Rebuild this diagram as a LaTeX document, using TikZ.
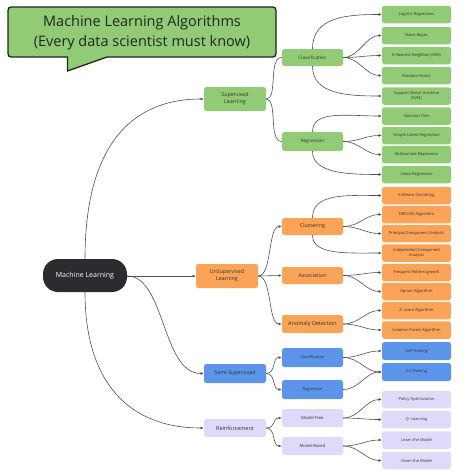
\documentclass[tikz,border=0pt]{standalone}
\usepackage{fontspec}
\setmainfont{Open Sans}
\usetikzlibrary{arrows.meta}
\definecolor{cgreen}{RGB}{146,203,118}
\definecolor{corange}{RGB}{251,164,88}
\definecolor{cblue}{RGB}{92,148,234}
\definecolor{clav}{RGB}{222,219,250}
\definecolor{cdark}{RGB}{43,43,48}
\definecolor{cline}{RGB}{80,80,80}
\definecolor{ctext}{RGB}{50,50,50}
\definecolor{cborder}{RGB}{30,40,30}
\tikzset{
  box/.style={rounded corners=2.5pt, inner sep=1pt, align=center, text=ctext},
  leafbox/.style={box, minimum width=69pt, minimum height=17.5pt, font=\fontsize{4}{5}\selectfont},
  midbox/.style={box, minimum width=61pt, minimum height=18pt},
  topbox/.style={box, minimum width=62pt},
  gfill/.style={fill=cgreen},
  ofill/.style={fill=corange},
  bfill/.style={fill=cblue},
  lfill/.style={fill=clav},
  conn/.style={draw=cline, line width=0.6pt},
  arr/.style={conn, -{Latex[length=3.2pt,width=2.8pt]}}
}
\begin{document}
\begin{tikzpicture}[x=1pt,y=-1pt]
\useasboundingbox[fill=white] (0,0) rectangle (474,474);

% title callout
\draw[fill=cgreen, draw=cborder, line width=1.3pt, line join=miter]
  (15,7) -- (269,7) .. controls (276,7) .. (276,14) -- (276,50)
  .. controls (276,57) .. (269,57) -- (107,57) -- (67.5,71) -- (67.5,57)
  -- (15,57) .. controls (8,57) .. (8,50) -- (8,14) .. controls (8,7) .. (15,7) -- cycle;
\node[text=cborder, align=center, font=\fontsize{14.5}{20}\selectfont] (title) at (142,33) {Machine Learning Algorithms\\(Every data scientist must know)};

% root
\node[fill=cdark, text=white, rounded corners=15pt, minimum width=84pt, minimum height=33pt, inner sep=1pt, font=\fontsize{7}{8}\selectfont] (ml) at (85,275.5) {Machine Learning};

% level 1
\node[topbox, gfill, minimum height=24pt, font=\fontsize{5.3}{7}\selectfont] (sup) at (235,99) {Supervised\\Learning};
\node[topbox, ofill, minimum height=24pt, font=\fontsize{5.3}{7}\selectfont] (uns) at (227,276) {UnSupervised\\Learning};
\node[topbox, bfill, minimum height=19pt, font=\fontsize{5.3}{7}\selectfont] (semi) at (235,373.5) {Semi-Supervised};
\node[topbox, lfill, minimum height=18pt, font=\fontsize{5.5}{7}\selectfont] (rein) at (235,428) {Reinforcement};

% level 2
\node[midbox, gfill, minimum height=17pt, font=\fontsize{4.6}{6}\selectfont] (scl) at (312.5,57.5) {Classification};
\node[midbox, gfill, minimum height=19pt, font=\fontsize{4.6}{6}\selectfont] (sre) at (312.5,141.5) {Regression};
\node[midbox, ofill, minimum height=17pt, font=\fontsize{5.3}{6}\selectfont] (clu) at (312.5,226.5) {Clustering};
\node[midbox, ofill, minimum height=17pt, font=\fontsize{5.3}{6}\selectfont] (ass) at (312.5,275.5) {Association};
\node[midbox, ofill, minimum height=18pt, font=\fontsize{5.5}{6}\selectfont] (ano) at (312.5,324) {Anomaly Detection};
\node[midbox, bfill, minimum height=19pt, font=\fontsize{3.9}{5}\selectfont] (mcl) at (312.5,357.5) {Classification};
\node[midbox, bfill, minimum height=19pt, font=\fontsize{3.9}{5}\selectfont] (mre) at (312.5,389.5) {Regression};
\node[midbox, lfill, font=\fontsize{4.2}{5}\selectfont] (mfr) at (312.5,418) {Model-Free};
\node[midbox, lfill, font=\fontsize{4.2}{5}\selectfont] (mba) at (312.5,446) {Model-Based};

% leaves
\node[leafbox, gfill] (l1) at (416.5,14.5) {Logistic Regression};
\node[leafbox, gfill] (l2) at (416.5,35.5) {Naive Bayes};
\node[leafbox, gfill] (l3) at (416.5,55.5) {K-Nearest Neighbor( KNN)};
\node[leafbox, gfill] (l4) at (416.5,75.5) {Random Forest};
\node[leafbox, gfill] (l5) at (416.5,96) {Support Vector machine\\(SVM)};
\node[leafbox, gfill] (l6) at (416.5,116) {Decision Tree};
\node[leafbox, gfill] (l7) at (416.5,135.5) {Simple Linear Regression};
\node[leafbox, gfill] (l8) at (416.5,154.5) {Multivariate Regression};
\node[leafbox, gfill] (l9) at (416.5,174.5) {Lasso Regression};
\node[leafbox, ofill] (u1) at (416.5,195.5) {K-Means Clustering};
\node[leafbox, ofill] (u2) at (416.5,214.5) {DBSCAN Algorithm};
\node[leafbox, ofill] (u3) at (416.5,233.5) {Principal Component Analysis};
\node[leafbox, ofill] (u4) at (416.5,253) {Independent Component\\Analysis};
\node[leafbox, ofill] (u5) at (416.5,272.5) {Frequent Pattern growth};
\node[leafbox, ofill] (u6) at (416.5,291.5) {Apriori Algorithm};
\node[leafbox, ofill] (u7) at (416.5,310.5) {Z- score Algorithm};
\node[leafbox, ofill] (u8) at (416.5,330) {Isolation Forest Algorithm};
\node[leafbox, bfill, minimum height=18pt] (s1) at (416.5,351) {Self-Training};
\node[leafbox, bfill, minimum height=18pt] (s2) at (416.5,372) {Co-Training};
\node[leafbox, lfill] (r1) at (416.5,399.5) {Policy Optimization};
\node[leafbox, lfill] (r2) at (416.5,419.5) {Q- Learning};
\node[leafbox, lfill] (r3) at (416.5,440) {Learn the Model};
\node[leafbox, lfill] (r4) at (416.5,460.5) {Given the Model};

% root connectors
\draw[arr] (ml.north) .. controls +(0,-110) and +(-75,0) .. (sup.west);
\draw[arr] (ml.east |- uns.west) -- (uns.west);
\draw[arr] (ml.east |- uns.west) .. controls +(38,0) and +(-42,0) .. (semi.west);
\draw[arr] (ml.south) .. controls +(0,90) and +(-75,0) .. (rein.west);

% level 1 to level 2
\draw[conn] (sup.east) .. controls +(12,0) and +(-14,0) .. (scl.west);
\draw[conn] (sup.east) .. controls +(12,0) and +(-14,0) .. (sre.west);
\draw[arr] (uns.east) .. controls +(14,0) and +(-14,0) .. (clu.west);
\draw[arr] (uns.east) -- (ass.west);
\draw[arr] (uns.east) .. controls +(14,0) and +(-14,0) .. (ano.west);
\draw[arr] (semi.east) .. controls +(10,0) and +(-10,0) .. (mcl.west);
\draw[arr] (semi.east) .. controls +(10,0) and +(-10,0) .. (mre.west);
\draw[arr] (rein.east) .. controls +(10,0) and +(-10,0) .. (mfr.west);
\draw[arr] (rein.east) .. controls +(10,0) and +(-10,0) .. (mba.west);

% supervised classification
\draw[arr] (scl.north) .. controls +(0,-32) and +(-35,0) .. (l1.west);
\draw[arr] (scl.east) .. controls +(16,0) and +(-16,0) .. (l2.west);
\draw[arr] (scl.east) .. controls +(16,0) and +(-16,0) .. (l3.west);
\draw[arr] (scl.east) .. controls +(16,0) and +(-16,0) .. (l4.west);
\draw[arr] (scl.south) .. controls +(0,28) and +(-35,0) .. (l5.west);
% supervised regression
\draw[arr] (sre.north) .. controls +(0,-22) and +(-35,0) .. (l6.west);
\draw[arr] (sre.east) .. controls +(16,0) and +(-16,0) .. (l7.west);
\draw[arr] (sre.east) .. controls +(16,0) and +(-16,0) .. (l8.west);
\draw[arr] (sre.south) .. controls +(0,22) and +(-35,0) .. (l9.west);
% clustering
\draw[arr] (clu.north) .. controls +(0,-25) and +(-35,0) .. (u1.west);
\draw[arr] (clu.east) .. controls +(16,0) and +(-16,0) .. (u2.west);
\draw[arr] (clu.east) .. controls +(16,0) and +(-16,0) .. (u3.west);
\draw[arr] (clu.south) .. controls +(0,20) and +(-35,0) .. (u4.west);
% association, anomaly
\draw[arr] (ass.east) .. controls +(16,0) and +(-16,0) .. (u5.west);
\draw[arr] (ass.east) .. controls +(16,0) and +(-16,0) .. (u6.west);
\draw[arr] (ano.east) .. controls +(16,0) and +(-16,0) .. (u7.west);
\draw[arr] (ano.east) .. controls +(16,0) and +(-16,0) .. (u8.west);
% semi
\draw[arr] (mcl.east) .. controls +(16,0) and +(-16,0) .. (s1.west);
\draw[arr] (mcl.east) .. controls +(16,0) and +(-16,0) .. (s2.west);
\draw[arr] (mre.east) .. controls +(16,0) and +(-16,0) .. (s2.west);
% reinforcement
\draw[arr] (mfr.east) .. controls +(16,0) and +(-16,0) .. (r1.west);
\draw[arr] (mfr.east) .. controls +(16,0) and +(-16,0) .. (r2.west);
\draw[arr] (mba.east) .. controls +(16,0) and +(-16,0) .. (r3.west);
\draw[arr] (mba.east) .. controls +(16,0) and +(-16,0) .. (r4.west);
\end{tikzpicture}
\end{document}
